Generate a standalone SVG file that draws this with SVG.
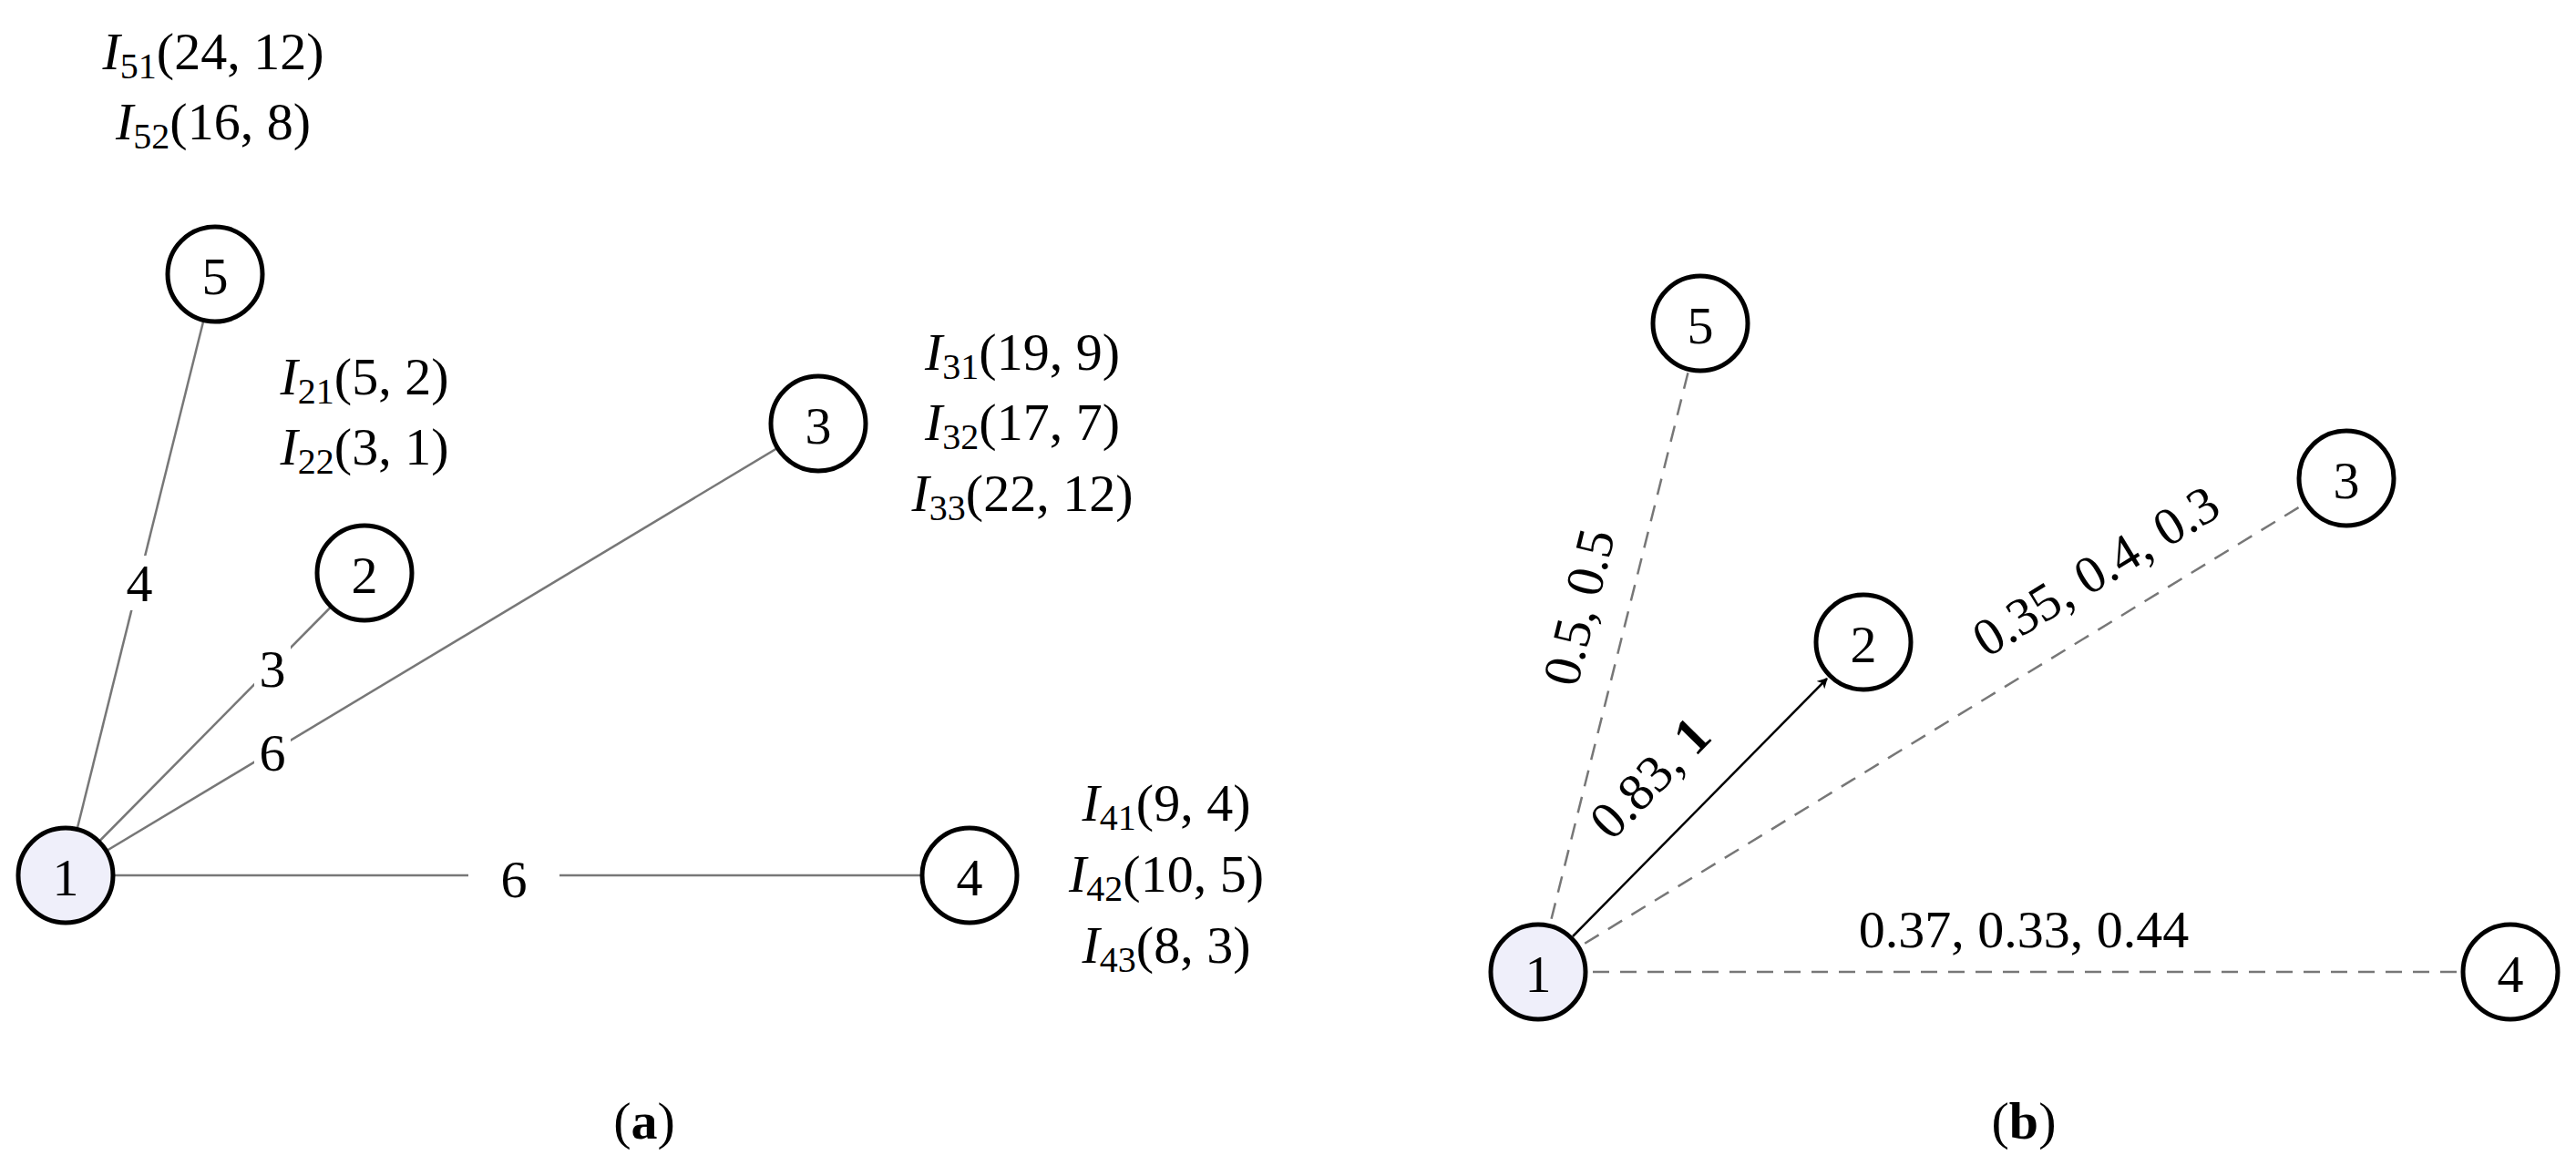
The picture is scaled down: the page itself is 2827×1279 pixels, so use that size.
<svg xmlns="http://www.w3.org/2000/svg" width="2827" height="1279" viewBox="0 0 2827 1279">
<style>
text{font-family:"Liberation Serif","DejaVu Serif",serif;font-size:58px;fill:#000}
.n{text-anchor:middle;dominant-baseline:central}
.c{text-anchor:middle}
.i{font-style:italic}
.s{font-size:40px}
.nd{stroke:#000;stroke-width:5;fill:#fff}
.e{stroke:#777;stroke-width:2.5;fill:none}
.d{stroke:#777;stroke-width:2.5;fill:none;stroke-dasharray:18 12}
.bg{fill:#fff}
</style>
<defs><marker id="ar" markerWidth="12" markerHeight="12" refX="10" refY="6" orient="auto" markerUnits="userSpaceOnUse"><path d="M0,0 L11,6 L0,12 L3,6 Z" fill="#000"/></marker></defs>
<rect width="2827" height="1279" fill="#fff"/>
<g id="connectors">
<line class="e" x1="72" y1="961" x2="236" y2="301"/>
<line class="e" x1="72" y1="961" x2="400" y2="629"/>
<line class="e" x1="72" y1="961" x2="898" y2="465"/>
<line class="e" x1="72" y1="961" x2="1064" y2="961"/>
<rect class="bg" x="133" y="610" width="40" height="60"/>
<rect class="bg" x="279" y="704" width="40" height="60"/>
<rect class="bg" x="279" y="796" width="40" height="60"/>
<rect class="bg" x="514" y="935" width="100" height="60"/>
<text class="n" x="153" y="640">4</text>
<text class="n" x="299" y="734">3</text>
<text class="n" x="299" y="826">6</text>
<text class="n" x="564" y="965">6</text>
<line class="d" x1="1688" y1="1067" x2="1866" y2="355"/>
<line class="d" x1="1688" y1="1067" x2="2575" y2="525"/>
<line class="d" x1="1688" y1="1067" x2="2755" y2="1067"/>
<line x1="1726" y1="1028" x2="2005" y2="745" stroke="#000" stroke-width="2.5" marker-end="url(#ar)"/>
<text class="c" transform="translate(1734,667) rotate(-76)" y="18">0.5, 0.5</text>
<text class="c" transform="translate(1826,869) rotate(-45.4)" y="-2">0.83, <tspan font-weight="bold">1</tspan></text>
<text class="c" transform="translate(2308,640) rotate(-31.4)" y="4">0.35, 0.4, 0.3</text>
<text class="c" x="2221" y="1040">0.37, 0.33, 0.44</text>
</g>
<g id="a1"><circle class="nd" cx="72" cy="961" r="52" style="fill:#efeffa"/><text class="n" x="72" y="963">1</text></g>
<g id="a2"><circle class="nd" cx="400" cy="629" r="52"/><text class="n" x="400" y="631">2</text></g>
<g id="a3"><circle class="nd" cx="898" cy="465" r="52"/><text class="n" x="898" y="467">3</text></g>
<g id="a4"><circle class="nd" cx="1064" cy="961" r="52"/><text class="n" x="1064" y="963">4</text></g>
<g id="a5"><circle class="nd" cx="236" cy="301" r="52"/><text class="n" x="236" y="303">5</text></g>
<g id="b1"><circle class="nd" cx="1688" cy="1067" r="52" style="fill:#efeffa"/><text class="n" x="1688" y="1069">1</text></g>
<g id="b2"><circle class="nd" cx="2045" cy="705" r="52"/><text class="n" x="2045" y="707">2</text></g>
<g id="b3"><circle class="nd" cx="2575" cy="525" r="52"/><text class="n" x="2575" y="527">3</text></g>
<g id="b4"><circle class="nd" cx="2755" cy="1067" r="52"/><text class="n" x="2755" y="1069">4</text></g>
<g id="b5"><circle class="nd" cx="1866" cy="355" r="52"/><text class="n" x="1866" y="357">5</text></g>
<g id="labels">
<text class="c" x="234" y="76"><tspan class="i">I</tspan><tspan class="s" dy="10">51</tspan><tspan dy="-10">(24, 12)</tspan></text>
<text class="c" x="234" y="153"><tspan class="i">I</tspan><tspan class="s" dy="10">52</tspan><tspan dy="-10">(16, 8)</tspan></text>
<text class="c" x="400" y="433"><tspan class="i">I</tspan><tspan class="s" dy="10">21</tspan><tspan dy="-10">(5, 2)</tspan></text>
<text class="c" x="400" y="510"><tspan class="i">I</tspan><tspan class="s" dy="10">22</tspan><tspan dy="-10">(3, 1)</tspan></text>
<text class="c" x="1122" y="406"><tspan class="i">I</tspan><tspan class="s" dy="10">31</tspan><tspan dy="-10">(19, 9)</tspan></text>
<text class="c" x="1122" y="483"><tspan class="i">I</tspan><tspan class="s" dy="10">32</tspan><tspan dy="-10">(17, 7)</tspan></text>
<text class="c" x="1122" y="561"><tspan class="i">I</tspan><tspan class="s" dy="10">33</tspan><tspan dy="-10">(22, 12)</tspan></text>
<text class="c" x="1280" y="901"><tspan class="i">I</tspan><tspan class="s" dy="10">41</tspan><tspan dy="-10">(9, 4)</tspan></text>
<text class="c" x="1280" y="979"><tspan class="i">I</tspan><tspan class="s" dy="10">42</tspan><tspan dy="-10">(10, 5)</tspan></text>
<text class="c" x="1280" y="1057"><tspan class="i">I</tspan><tspan class="s" dy="10">43</tspan><tspan dy="-10">(8, 3)</tspan></text>
<text class="c" x="707" y="1250">(<tspan font-weight="bold">a</tspan>)</text>
<text class="c" x="2221" y="1250">(<tspan font-weight="bold">b</tspan>)</text>
</g>
</svg>
